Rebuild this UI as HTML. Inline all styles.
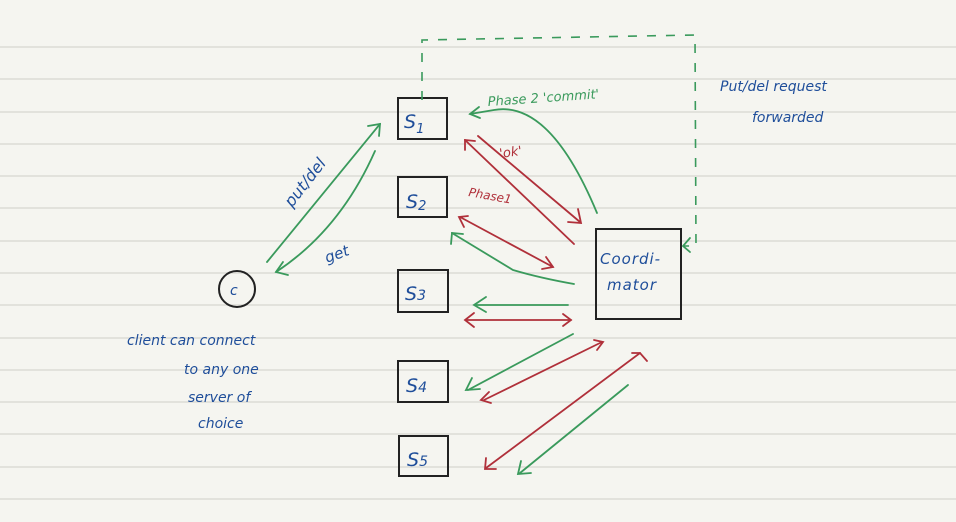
<!DOCTYPE html>
<html><head><meta charset="utf-8"><style>
html,body{margin:0;padding:0;background:#f5f5f0;}
svg{display:block}
text{font-family:"DejaVu Sans","Liberation Sans",cursive;fill:#1f4e9a;font-style:italic}
</style></head><body>
<svg width="956" height="522" viewBox="0 0 956 522" xmlns="http://www.w3.org/2000/svg">
<rect width="956" height="522" fill="#f5f5f0"/>
<g stroke="#dcdcd6" stroke-width="1.6">
<line x1="0" y1="47" x2="956" y2="47"/><line x1="0" y1="79" x2="956" y2="79"/>
<line x1="0" y1="112" x2="956" y2="112"/><line x1="0" y1="144" x2="956" y2="144"/>
<line x1="0" y1="176" x2="956" y2="176"/><line x1="0" y1="208" x2="956" y2="208"/>
<line x1="0" y1="241" x2="956" y2="241"/><line x1="0" y1="273" x2="956" y2="273"/>
<line x1="0" y1="305" x2="956" y2="305"/><line x1="0" y1="338" x2="956" y2="338"/>
<line x1="0" y1="370" x2="956" y2="370"/><line x1="0" y1="402" x2="956" y2="402"/>
<line x1="0" y1="434" x2="956" y2="434"/><line x1="0" y1="467" x2="956" y2="467"/>
<line x1="0" y1="499" x2="956" y2="499"/>
</g>
<g fill="none" stroke="#222" stroke-width="2">
<rect x="398" y="98" width="49" height="41"/>
<rect x="398" y="177" width="49" height="40"/>
<rect x="398" y="270" width="50" height="42"/>
<rect x="398" y="361" width="50" height="41"/>
<rect x="399" y="436" width="49" height="40"/>
<rect x="596" y="229" width="85" height="90"/>
<circle cx="237" cy="289" r="18"/>
</g>
<!-- dashed green -->
<g fill="none" stroke="#3a9a5c" stroke-width="1.6" stroke-dasharray="9,10">
<polyline points="422,100 422,40 695,35 696,246 684,246"/>
</g>
<g fill="none" stroke="#3a9a5c" stroke-width="1.8" stroke-linecap="round">
<polyline points="690,238 683,246 690,252"/>
<!-- client arrows -->
<line x1="267" y1="262" x2="380" y2="124"/>
<polyline points="368,126 380,124 379,136"/>
<path d="M375,151 Q340,230 276,272"/>
<polyline points="283,262 276,272 288,275"/>
<!-- phase2 commit -->
<path d="M597,213 Q550,100 494,110 L470,114"/>
<polyline points="479,107 470,114 480,118"/>
<path d="M574,284 Q540,278 513,270 L452,233"/>
<polyline points="451,244 452,233 463,234"/>
<line x1="568" y1="305" x2="475" y2="305"/>
<polyline points="486,297 474,305 486,312"/>
<line x1="573" y1="334" x2="468" y2="390"/>
<polyline points="472,378 466,390 480,389"/>
<line x1="628" y1="385" x2="520" y2="473"/>
<polyline points="521,461 518,474 531,473"/>
</g>
<g fill="none" stroke="#b0303a" stroke-width="1.8" stroke-linecap="round">
<line x1="478" y1="136" x2="580" y2="222"/>
<polyline points="578,209 581,223 568,222"/>
<line x1="465" y1="140" x2="574" y2="244"/>
<polyline points="465,150 465,140 475,141"/>
<line x1="460" y1="217" x2="553" y2="267"/>
<polyline points="468,216 459,217 464,227"/>
<polyline points="546,257 553,267 542,269"/>
<line x1="466" y1="320" x2="571" y2="320"/>
<polyline points="474,313 465,320 474,327"/>
<polyline points="563,314 571,320 563,326"/>
<line x1="484" y1="400" x2="602" y2="342"/>
<polyline points="489,392 481,400 491,403"/>
<polyline points="594,340 603,342 597,350"/>
<line x1="486" y1="468" x2="640" y2="353"/>
<polyline points="486,458 485,469 496,469"/>
<polyline points="632,353 640,353 647,361"/>
</g>
<g font-size="19">
<text x="404" y="128">S<tspan font-size="13" dy="5">1</tspan></text>
<text x="406" y="208">S<tspan font-size="13" dy="2">2</tspan></text>
<text x="405" y="300">S<tspan font-size="14" dy="0">3</tspan></text>
<text x="406" y="392">S<tspan font-size="14">4</tspan></text>
<text x="407" y="466">S<tspan font-size="14">5</tspan></text>
</g>
<text x="230" y="295" font-size="14">c</text>
<text x="600" y="264" font-size="15" letter-spacing="1">Coordi-</text>
<text x="607" y="290" font-size="15" letter-spacing="1">mator</text>
<text x="292" y="208" font-size="16" transform="rotate(-52 292 208)">put/del</text>
<text x="327" y="263" font-size="15" transform="rotate(-20 327 263)">get</text>
<text x="127" y="345" font-size="14">client can connect</text>
<text x="184" y="374" font-size="14">to any one</text>
<text x="188" y="402" font-size="14">server of</text>
<text x="198" y="428" font-size="14">choice</text>
<text x="720" y="91" font-size="14">Put/del request</text>
<text x="752" y="122" font-size="14">forwarded</text>
<text x="488" y="106" font-size="13" style="fill:#3a9a5c" transform="rotate(-4 488 106)">Phase 2 'commit'</text>
<text x="500" y="158" font-size="13" style="fill:#b0303a" transform="rotate(-8 500 158)">'ok'</text>
<text x="468" y="196" font-size="12" style="fill:#b0303a" transform="rotate(10 468 196)">Phase1</text>
</svg>
</body></html>
